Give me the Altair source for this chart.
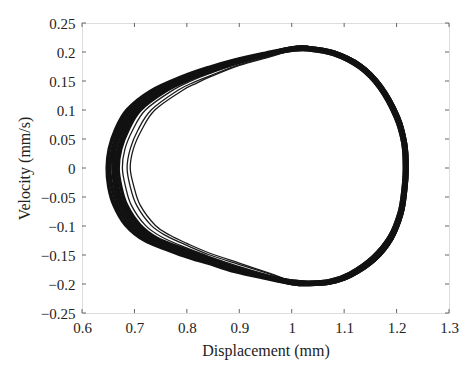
import altair as alt
import pandas as pd

# ---- axis ticks ----
TICKS_X = [0.6, 0.7, 0.8, 0.9, 1.0, 1.1, 1.2, 1.3]
TICKS_Y = [-0.25, -0.2, -0.15, -0.1, -0.05, 0.0, 0.05, 0.1, 0.15, 0.2, 0.25]

# ---- right side of the orbit (nearly identical for all cycles) ----
RIGHT_OUTER_X = [1.000, 1.030, 1.080, 1.132, 1.171, 1.203, 1.217, 1.220, 1.217, 1.210, 1.191, 1.159, 1.113, 1.074, 1.033, 1.000]
RIGHT_OUTER_Y = [0.207, 0.208, 0.200, 0.177, 0.141, 0.089, 0.043, 0.000, -0.040, -0.079, -0.122, -0.158, -0.186, -0.198, -0.201, -0.199]
RIGHT_INNER_X = [1.000, 1.030, 1.079, 1.129, 1.167, 1.198, 1.212, 1.215, 1.212, 1.205, 1.186, 1.154, 1.110, 1.073, 1.033, 1.000]
RIGHT_INNER_Y = [0.203, 0.204, 0.196, 0.173, 0.138, 0.087, 0.043, 0.000, -0.040, -0.077, -0.119, -0.154, -0.182, -0.194, -0.197, -0.195]

# ---- left side of each cycle (bottom -> left -> top) ----
LOOP_A_X = [0.950, 0.890, 0.844, 0.790, 0.720, 0.683, 0.661, 0.651, 0.648, 0.652, 0.664, 0.686, 0.730, 0.790, 0.844, 0.890, 0.950]
LOOP_A_Y = [-0.190, -0.178, -0.165, -0.150, -0.125, -0.098, -0.064, -0.032, 0.000, 0.033, 0.066, 0.100, 0.132, 0.157, 0.174, 0.186, 0.198]
LOOP_B_X = [0.951, 0.891, 0.844, 0.791, 0.726, 0.690, 0.667, 0.657, 0.653, 0.658, 0.670, 0.692, 0.737, 0.793, 0.844, 0.891, 0.951]
LOOP_B_Y = [-0.189, -0.177, -0.163, -0.148, -0.124, -0.098, -0.064, -0.032, 0.000, 0.033, 0.066, 0.100, 0.132, 0.156, 0.172, 0.185, 0.197]
LOOP_C_X = [0.952, 0.892, 0.844, 0.792, 0.732, 0.697, 0.673, 0.663, 0.659, 0.663, 0.676, 0.699, 0.745, 0.797, 0.844, 0.892, 0.952]
LOOP_C_Y = [-0.188, -0.175, -0.161, -0.145, -0.123, -0.098, -0.064, -0.032, 0.000, 0.033, 0.066, 0.100, 0.132, 0.154, 0.170, 0.184, 0.197]
LOOP_D_X = [0.954, 0.894, 0.844, 0.794, 0.737, 0.704, 0.679, 0.668, 0.664, 0.669, 0.682, 0.705, 0.752, 0.800, 0.844, 0.894, 0.954]
LOOP_D_Y = [-0.187, -0.174, -0.159, -0.143, -0.122, -0.098, -0.064, -0.032, 0.000, 0.033, 0.066, 0.100, 0.133, 0.153, 0.168, 0.182, 0.196]
LOOP_E_X = [0.955, 0.895, 0.844, 0.795, 0.743, 0.710, 0.685, 0.674, 0.669, 0.674, 0.688, 0.711, 0.760, 0.803, 0.844, 0.895, 0.955]
LOOP_E_Y = [-0.187, -0.172, -0.156, -0.140, -0.121, -0.098, -0.064, -0.032, 0.000, 0.033, 0.066, 0.100, 0.133, 0.152, 0.166, 0.181, 0.195]
LOOP_F_X = [0.957, 0.897, 0.844, 0.797, 0.752, 0.721, 0.694, 0.683, 0.677, 0.682, 0.697, 0.721, 0.771, 0.808, 0.844, 0.897, 0.957]
LOOP_F_Y = [-0.185, -0.169, -0.153, -0.137, -0.119, -0.099, -0.064, -0.032, 0.000, 0.033, 0.066, 0.100, 0.133, 0.150, 0.163, 0.180, 0.194]
LOOP_H_X = [0.959, 0.899, 0.844, 0.799, 0.761, 0.732, 0.704, 0.692, 0.686, 0.692, 0.707, 0.732, 0.783, 0.814, 0.844, 0.899, 0.959]
LOOP_H_Y = [-0.183, -0.166, -0.150, -0.133, -0.117, -0.099, -0.064, -0.032, 0.000, 0.033, 0.066, 0.100, 0.134, 0.148, 0.159, 0.178, 0.193]
LOOP_G_X = [0.960, 0.900, 0.844, 0.800, 0.768, 0.740, 0.711, 0.699, 0.692, 0.698, 0.714, 0.739, 0.792, 0.818, 0.844, 0.900, 0.960]
LOOP_G_Y = [-0.182, -0.164, -0.147, -0.130, -0.116, -0.099, -0.064, -0.032, 0.000, 0.033, 0.066, 0.100, 0.134, 0.146, 0.157, 0.177, 0.192]

loops = [
    ("A", RIGHT_OUTER_X, RIGHT_OUTER_Y, LOOP_A_X, LOOP_A_Y, "dense"),
    ("B", RIGHT_OUTER_X, RIGHT_OUTER_Y, LOOP_B_X, LOOP_B_Y, "dense"),
    ("C", RIGHT_OUTER_X, RIGHT_OUTER_Y, LOOP_C_X, LOOP_C_Y, "dense"),
    ("D", RIGHT_INNER_X, RIGHT_INNER_Y, LOOP_D_X, LOOP_D_Y, "dense"),
    ("E", RIGHT_INNER_X, RIGHT_INNER_Y, LOOP_E_X, LOOP_E_Y, "dense"),
    ("F", RIGHT_INNER_X, RIGHT_INNER_Y, LOOP_F_X, LOOP_F_Y, "thin"),
    ("H", RIGHT_INNER_X, RIGHT_INNER_Y, LOOP_H_X, LOOP_H_Y, "thin"),
    ("G", RIGHT_INNER_X, RIGHT_INNER_Y, LOOP_G_X, LOOP_G_Y, "thin"),
]

rows = []
for name, rx, ry, lx, ly, grp in loops:
    xs = rx + lx
    ys = ry + ly
    for i, (xv, yv) in enumerate(zip(xs, ys)):
        rows.append({"loop": name, "ord": i, "x": xv, "y": yv, "grp": grp})
df = pd.DataFrame(rows)

W, H = 367, 290
FONT = "Liberation Serif"
XDOM = [0.6, 1.3]
YDOM = [-0.25, 0.25]

xscale = alt.Scale(domain=XDOM, nice=False, zero=False)
yscale = alt.Scale(domain=YDOM, nice=False, zero=False)

x_axis = alt.Axis(
    values=TICKS_X, format=".1~f", grid=False, domain=False, ticks=False,
    labelOverlap=False, labelFlush=False,
    labelPadding=7, labelFont=FONT, labelFontSize=15, labelColor="#222",
    title="Displacement (mm)", titleFont=FONT, titleFontSize=16,
    titleFontWeight="normal", titleColor="#222",
    titleX=W / 2, titleY=37, titleBaseline="middle",
)
y_axis = alt.Axis(
    values=TICKS_Y, format=".2~f", grid=False, domain=False, ticks=False,
    labelOverlap=False, labelFlush=False,
    labelPadding=7, labelFont=FONT, labelFontSize=15, labelColor="#222",
    title="Velocity (mm/s)", titleFont=FONT, titleFontSize=16,
    titleFontWeight="normal", titleColor="#222",
    titleX=-58, titleY=H / 2, titleBaseline="middle", titleAngle=270,
)

base = alt.Chart(df)
thin = base.transform_filter(alt.datum.grp == "thin").mark_line(
    interpolate="cardinal-closed", strokeWidth=1.3, color="#1a1a1a"
).encode(
    x=alt.X("x:Q", scale=xscale, axis=x_axis),
    y=alt.Y("y:Q", scale=yscale, axis=y_axis),
    detail="loop:N",
    order="ord:Q",
)
dense = base.transform_filter(alt.datum.grp == "dense").mark_line(
    interpolate="cardinal-closed", strokeWidth=3.5, color="#111"
).encode(
    x=alt.X("x:Q", scale=xscale, axis=x_axis),
    y=alt.Y("y:Q", scale=yscale, axis=y_axis),
    detail="loop:N",
    order="ord:Q",
)

tx = pd.DataFrame({"t": TICKS_X})
ty = pd.DataFrame({"t": TICKS_Y})
TICK_COLOR = "#666"
tick_bottom = alt.Chart(tx).mark_rule(color=TICK_COLOR, strokeWidth=1).encode(
    x=alt.X("t:Q", scale=xscale, axis=x_axis), y=alt.value(H), y2=alt.value(H - 4))
tick_top = alt.Chart(tx).mark_rule(color=TICK_COLOR, strokeWidth=1).encode(
    x=alt.X("t:Q", scale=xscale, axis=x_axis), y=alt.value(0), y2=alt.value(4))
tick_left = alt.Chart(ty).mark_rule(color=TICK_COLOR, strokeWidth=1).encode(
    y=alt.Y("t:Q", scale=yscale, axis=y_axis), x=alt.value(0), x2=alt.value(4))
tick_right = alt.Chart(ty).mark_rule(color=TICK_COLOR, strokeWidth=1).encode(
    y=alt.Y("t:Q", scale=yscale, axis=y_axis), x=alt.value(W), x2=alt.value(W - 4))

chart = alt.layer(
    thin, dense, tick_bottom, tick_top, tick_left, tick_right
).properties(
    width=W, height=H,
    autosize=alt.AutoSizeParams(type="none"),
    padding={"left": 74, "top": 15, "right": 15, "bottom": 52},
).configure_view(
    stroke="#777", strokeWidth=1
).configure_axis(
    labelOverlap=False
).configure(background="white")

chart.save("out.html", embed_options={"renderer": "svg", "actions": False})
